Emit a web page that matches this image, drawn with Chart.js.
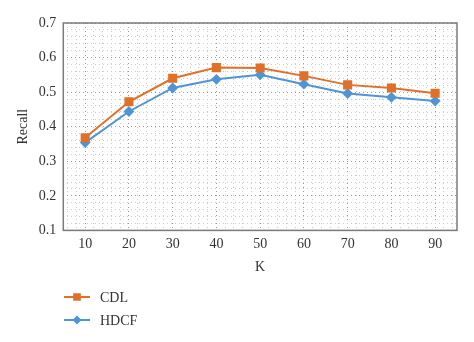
<!DOCTYPE html>
<html>
<head>
<meta charset="utf-8">
<script src="https://cdn.jsdelivr.net/npm/chart.js@4.4.1/dist/chart.umd.min.js"></script>
<style>
  html, body { margin: 0; padding: 0; background: #fff; }
  #wrap { width: 474px; height: 342px; }
</style>
</head>
<body>
<div id="wrap"><canvas id="chart_recall"></canvas></div>
<script>
const kValues = [10, 20, 30, 40, 50, 60, 70, 80, 90];
const recallCDL = [0.368, 0.472, 0.540, 0.571, 0.570, 0.547, 0.521, 0.512, 0.497];
const recallHDCF = [0.354, 0.444, 0.512, 0.537, 0.550, 0.523, 0.496, 0.485, 0.474];
const yTicks = [0.1, 0.2, 0.3, 0.4, 0.5, 0.6, 0.7];

const colorCDL = '#E07028';
const colorHDCF = '#4E95D6';
const serif = "'Liberation Serif', 'DejaVu Serif', serif";

function toPoints(ys) {
  return kValues.map(function(k, i) { return { x: k, y: ys[i] }; });
}

function isMajorY(v) {
  return yTicks.some(function(t) { return Math.abs(t - v) < 1e-6; });
}

// frame round the plot area
const frameBox = {
  id: 'frameBox',
  beforeDatasetsDraw(chart) {
    const a = chart.chartArea;
    const ctx = chart.ctx;
    ctx.save();
    ctx.strokeStyle = '#7a7a7a';
    ctx.lineWidth = 1.5;
    ctx.strokeRect(a.left, a.top, a.right - a.left, a.bottom - a.top);
    ctx.restore();
  }
};

// stacked legend under the x title
const stackLegend = {
  id: 'stackLegend',
  afterDraw(chart) {
    const ctx = chart.ctx;
    const x0 = 64;
    let y = 297;
    ctx.save();
    chart.data.datasets.forEach(function(ds) {
      ctx.strokeStyle = ds.borderColor;
      ctx.lineWidth = 2;
      ctx.beginPath();
      ctx.moveTo(x0, y);
      ctx.lineTo(x0 + 26, y);
      ctx.stroke();
      ctx.fillStyle = ds.pointBackgroundColor;
      ctx.strokeStyle = ds.pointBorderColor;
      Chart.helpers.drawPoint(ctx, {
        pointStyle: ds.pointStyle,
        radius: ds.pointRadius - 1,
        borderWidth: 1,
        rotation: 0
      }, x0 + 13, y);
      ctx.fillStyle = '#333';
      ctx.font = '14px ' + serif;
      ctx.textBaseline = 'middle';
      ctx.fillText(ds.label, x0 + 36, y + 1);
      y += 23;
    });
    ctx.restore();
  }
};

new Chart(document.getElementById('chart_recall'), {
  type: 'line',
  data: {
    datasets: [{
        label: 'CDL',
        data: toPoints(recallCDL),
        borderColor: colorCDL,
        backgroundColor: colorCDL,
        pointBackgroundColor: colorCDL,
        pointBorderColor: colorCDL,
        pointStyle: 'rect',
        pointRadius: 5,
        borderWidth: 2
      }, {
        label: 'HDCF',
        data: toPoints(recallHDCF),
        borderColor: colorHDCF,
        backgroundColor: colorHDCF,
        pointBackgroundColor: colorHDCF,
        pointBorderColor: colorHDCF,
        pointStyle: 'rectRot',
        pointRadius: 4,
        borderWidth: 2
      }]
  },
  options: {
    responsive: true,
    maintainAspectRatio: false,
    animation: false,
    layout: { padding: { left: 15, right: 17, top: 23, bottom: 62 } },
    plugins: {
      legend: { display: false },
      tooltip: { enabled: false }
    },
    scales: {
      x: {
        type: 'linear',
        min: 5,
        max: 95,
        border: { display: false, dash: [1, 3] },
        grid: {
          // one tick per unit of K; only even ones get a dotted line
          color: function(c) {
            if (!c.tick) return 'transparent';
            const v = Math.round(c.tick.value);
            if (v % 2 !== 0) return 'transparent';
            return v % 10 === 0 ? '#9a9a9a' : '#cacaca';
          },
          lineWidth: 1,
          drawTicks: false
        },
        ticks: {
          stepSize: 1,
          autoSkip: false,
          maxRotation: 0,
          padding: 6,
          color: '#333',
          font: { family: serif, size: 14 },
          callback: function(v) { return kValues.indexOf(Math.round(v)) >= 0 && Math.abs(v - Math.round(v)) < 1e-6 ? String(Math.round(v)) : ''; }
        },
        title: {
          display: true,
          text: 'K',
          color: '#333',
          font: { family: serif, size: 14 },
          padding: { top: 0 }
        }
      },
      y: {
        min: 0.1,
        max: 0.7,
        border: { display: false, dash: [1, 3] },
        grid: {
          color: function(c) { return c.tick && isMajorY(c.tick.value) ? '#9a9a9a' : '#cacaca'; },
          lineWidth: 1,
          drawTicks: false
        },
        ticks: {
          stepSize: 0.02,
          autoSkip: false,
          padding: 7,
          color: '#333',
          font: { family: serif, size: 14 },
          callback: function(v) { return isMajorY(v) ? v.toFixed(1) : ''; }
        },
        title: {
          display: true,
          text: 'Recall',
          color: '#333',
          font: { family: serif, size: 14 },
          padding: { top: 0, bottom: 0 }
        }
      }
    }
  },
  plugins: [frameBox, stackLegend]
});
</script>
</body>
</html>
